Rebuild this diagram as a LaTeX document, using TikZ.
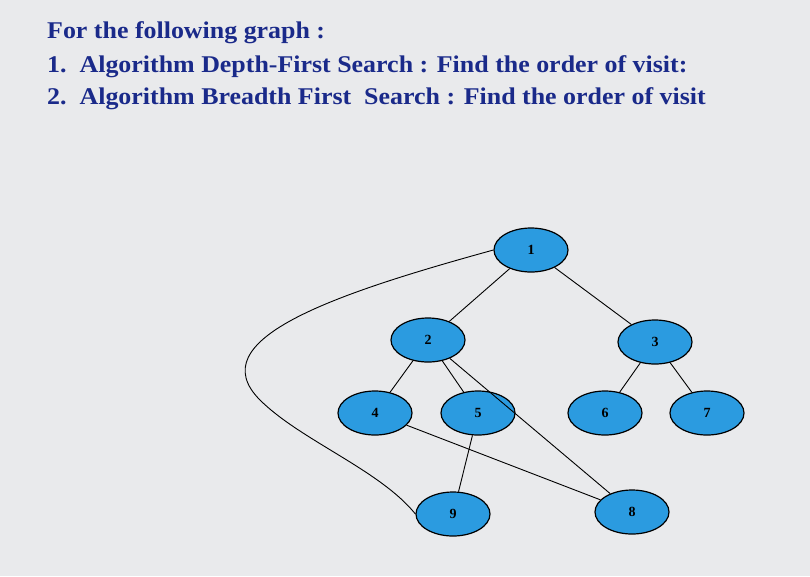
\documentclass[tikz,border=0pt]{standalone}
\usepackage{fontspec}
\setmainfont{Liberation Serif}
\usetikzlibrary{shapes.geometric}
\definecolor{bg}{HTML}{E9EAEC}
\definecolor{txt}{HTML}{1A2A8A}
\definecolor{nodefill}{HTML}{2B9BE0}
\newcommand{\wideline}[1]{\scalebox{1.08}[1]{#1}}
\begin{document}
\begin{tikzpicture}[x=1pt,y=-1pt,
  vtx/.style={ellipse,draw=black,line width=1.2pt,fill=nodefill,minimum width=74pt,minimum height=44pt,inner sep=0pt,font=\bfseries\fontsize{14}{16}\selectfont},
  edge/.style={draw=black,line width=0.9pt},
  ttl/.style={anchor=west,text=txt,font=\bfseries\fontsize{24}{27}\selectfont,inner sep=0pt}]
\fill[bg] (0,0) rectangle (810,576);
\useasboundingbox (0,0) rectangle (810,576);
\node[ttl] (t0) at (47,33) {\wideline{For the following graph :}};
\node[ttl] (t1) at (47,67) {\wideline{1.\enspace Algorithm Depth-First Search : Find the order of visit:}};
\node[ttl] (t2) at (47,99) {\wideline{2.\enspace Algorithm Breadth First\enspace Search : Find the order of visit}};
\node[vtx] (n1) at (531,250) {1};
\node[vtx] (n2) at (428,340) {2};
\node[vtx] (n3) at (655,342) {3};
\node[vtx] (n4) at (375,413) {4};
\node[vtx] (n5) at (478,413) {5};
\node[vtx] (n6) at (605,413) {6};
\node[vtx] (n7) at (707,413) {7};
\node[vtx] (n9) at (453,514) {9};
\node[vtx] (n8) at (632,512) {8};
\draw[edge] (n1) -- (n2);
\draw[edge] (n1) -- (n3);
\draw[edge] (n2) -- (n4);
\draw[edge] (n2) -- (n5);
\draw[edge] (n2) -- (n8);
\draw[edge] (n3) -- (n6);
\draw[edge] (n3) -- (n7);
\draw[edge] (n4) -- (n8);
\draw[edge] (n5) -- (n9);
\draw[edge] (n1.west) .. controls (330,295) and (200,340) .. (260,400) .. controls (300,440) and (380,470) .. (n9.west);
\end{tikzpicture}
\end{document}
